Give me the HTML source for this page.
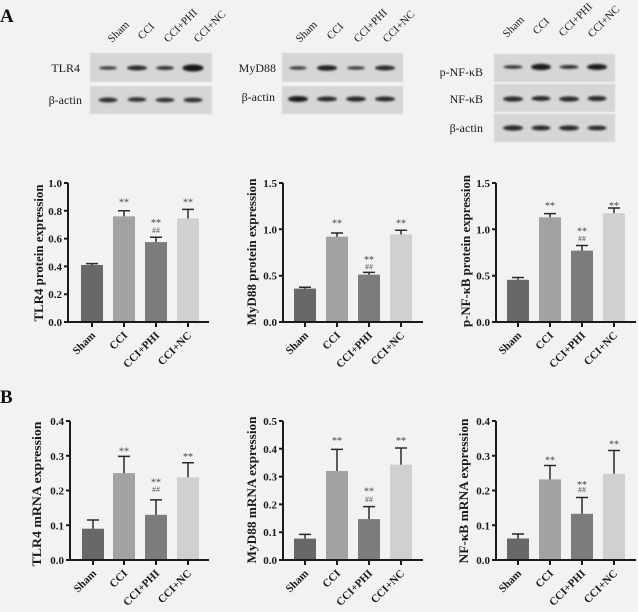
<!DOCTYPE html>
<html><head><meta charset="utf-8"><style>
html,body{margin:0;padding:0;background:#f2f2f2;}
svg{display:block;}
.t{font-family:"Liberation Serif",serif;font-weight:bold;font-size:11px;fill:#1a1a1a;}
.yl{font-family:"Liberation Serif",serif;font-weight:bold;font-size:13px;fill:#1a1a1a;}
.bl{font-family:"Liberation Serif",serif;font-size:12px;fill:#1a1a1a;}
.cl{font-family:"Liberation Serif",serif;font-size:11px;fill:#1a1a1a;}
.ast{font-family:"Liberation Serif",serif;font-size:10px;fill:#444;}
.hs{font-family:"Liberation Serif",serif;font-size:8px;fill:#555;}
.ax{stroke:#1a1a1a;stroke-width:2;fill:none;}
.eb{stroke:#2a2a2a;stroke-width:1.5;fill:none;}
.big{font-family:"Liberation Serif",serif;font-weight:bold;font-size:19px;fill:#111;}
</style></head><body>
<svg width="638" height="612" viewBox="0 0 638 612" xmlns="http://www.w3.org/2000/svg">
<defs><filter id="bl" x="-30%" y="-100%" width="160%" height="300%"><feGaussianBlur stdDeviation="1.1"/></filter></defs>
<rect width="638" height="612" fill="#f2f2f2"/>
<text class="big" x="0" y="22">A</text>
<text class="big" x="0" y="403">B</text>

<!-- Blot panel 1 -->
<g>
<text class="cl" transform="translate(112,43) rotate(-45)">Sham</text>
<text class="cl" transform="translate(142,40) rotate(-45)">CCI</text>
<text class="cl" transform="translate(168,43) rotate(-45)">CCI+PHI</text>
<text class="cl" transform="translate(198,43) rotate(-45)">CCI+NC</text>
<rect x="90" y="53" width="122" height="29" fill="#d6d6d6" stroke="#e4e4e4"/>
<rect x="90" y="86" width="122" height="28" fill="#d6d6d6" stroke="#e4e4e4"/>
<text class="bl" x="80" y="72" text-anchor="end">TLR4</text>
<text class="bl" x="82" y="104" text-anchor="end">β-actin</text>
<g filter="url(#bl)" fill="#2a2a2a">
<ellipse cx="108" cy="68" rx="9" ry="1.8" fill="#3a3a3a"/>
<ellipse cx="137" cy="68" rx="10" ry="2.5"/>
<ellipse cx="165" cy="68" rx="9" ry="2" fill="#333"/>
<ellipse cx="193" cy="68" rx="10.5" ry="3.5" fill="#151515"/>
<ellipse cx="108" cy="100" rx="9.5" ry="2.5" fill="#333"/>
<ellipse cx="137" cy="99.5" rx="9.5" ry="2.3" fill="#333"/>
<ellipse cx="165" cy="100" rx="9.5" ry="2.3" fill="#333"/>
<ellipse cx="193" cy="100" rx="9.5" ry="2.4" fill="#333"/>
</g>
</g>

<!-- Blot panel 2 -->
<g>
<text class="cl" transform="translate(300,43) rotate(-45)">Sham</text>
<text class="cl" transform="translate(331,40) rotate(-45)">CCI</text>
<text class="cl" transform="translate(358,43) rotate(-45)">CCI+PHI</text>
<text class="cl" transform="translate(387,43) rotate(-45)">CCI+NC</text>
<rect x="282" y="53" width="121" height="29" fill="#d6d6d6" stroke="#e4e4e4"/>
<rect x="282" y="86" width="121" height="28" fill="#d6d6d6" stroke="#e4e4e4"/>
<text class="bl" x="276" y="72" text-anchor="end">MyD88</text>
<text class="bl" x="275" y="101" text-anchor="end">β-actin</text>
<g filter="url(#bl)" fill="#2a2a2a">
<ellipse cx="298" cy="68" rx="8.5" ry="1.8" fill="#3a3a3a"/>
<ellipse cx="327" cy="68" rx="10" ry="2.8" fill="#222"/>
<ellipse cx="356" cy="68" rx="9" ry="1.8" fill="#3a3a3a"/>
<ellipse cx="385" cy="68" rx="10" ry="2.5" fill="#2a2a2a"/>
<ellipse cx="298" cy="99" rx="10" ry="3" fill="#1a1a1a"/>
<ellipse cx="327" cy="99" rx="10" ry="2.5" fill="#2a2a2a"/>
<ellipse cx="356" cy="99" rx="10" ry="2.6" fill="#2a2a2a"/>
<ellipse cx="385" cy="99" rx="10" ry="2.5" fill="#2a2a2a"/>
</g>
</g>

<!-- Blot panel 3 -->
<g>
<text class="cl" transform="translate(507,38) rotate(-45)">Sham</text>
<text class="cl" transform="translate(537,35) rotate(-45)">CCI</text>
<text class="cl" transform="translate(563,37) rotate(-45)">CCI+PHI</text>
<text class="cl" transform="translate(592,38) rotate(-45)">CCI+NC</text>
<rect x="494" y="54" width="121" height="28" fill="#d6d6d6" stroke="#e4e4e4"/>
<rect x="494" y="84" width="121" height="28" fill="#d6d6d6" stroke="#e4e4e4"/>
<rect x="494" y="114" width="121" height="28" fill="#d6d6d6" stroke="#e4e4e4"/>
<text class="bl" x="483" y="76" text-anchor="end">p-NF-κB</text>
<text class="bl" x="483" y="103" text-anchor="end">NF-κB</text>
<text class="bl" x="483" y="132" text-anchor="end">β-actin</text>
<g filter="url(#bl)" fill="#2a2a2a">
<ellipse cx="513" cy="67" rx="9.5" ry="1.8" fill="#333"/>
<ellipse cx="541" cy="67" rx="10" ry="3.2" fill="#1a1a1a"/>
<ellipse cx="569" cy="67" rx="9.5" ry="2" fill="#333"/>
<ellipse cx="597" cy="67" rx="10" ry="3" fill="#1e1e1e"/>
<ellipse cx="513" cy="99" rx="10" ry="2.6"/>
<ellipse cx="541" cy="98.5" rx="9.5" ry="2.5"/>
<ellipse cx="569" cy="99" rx="10" ry="2.6"/>
<ellipse cx="597" cy="98.5" rx="9.5" ry="2.6"/>
<ellipse cx="513" cy="128" rx="10" ry="2.7"/>
<ellipse cx="541" cy="128" rx="9.5" ry="2.5"/>
<ellipse cx="569" cy="128" rx="10" ry="2.6"/>
<ellipse cx="597" cy="128" rx="9.5" ry="2.4"/>
</g>
</g>

<!-- Chart 1: TLR4 protein -->
<g>
<text class="yl" transform="translate(43,253) rotate(-90)" text-anchor="middle" textLength="137" lengthAdjust="spacingAndGlyphs">TLR4 protein expression</text>
<g class="t" text-anchor="end">
<text x="62" y="326">0.0</text><text x="62" y="298.2">0.2</text><text x="62" y="270.4">0.4</text><text x="62" y="242.6">0.6</text><text x="62" y="214.8">0.8</text><text x="62" y="187">1.0</text>
</g>
<rect x="81" y="265" width="22" height="57" fill="#686868"/>
<rect x="113" y="216.4" width="22" height="105.6" fill="#a2a2a4"/>
<rect x="145" y="242.1" width="22" height="79.9" fill="#7c7c7c"/>
<rect x="177" y="218.4" width="22" height="103.6" fill="#d0d0d0"/>
<path class="eb" d="M92 265V263.6M86 263.6H98 M124 216.4V210.8M118 210.8H130 M156 242.1V237.2M150 237.2H162 M188 218.4V209.4M182 209.4H194"/>
<path class="ax" d="M68 183V322H209 M64 183H68M64 210.8H68M64 238.6H68M64 266.4H68M64 294.2H68M64 322H68 M92 322V327M124 322V327M156 322V327M188 322V327"/>
<text class="ast" x="124" y="205.4" text-anchor="middle">**</text>
<text class="ast" x="188" y="205.4" text-anchor="middle">**</text>
<text class="ast" x="156" y="225.9" text-anchor="middle">**</text>
<text class="hs" x="156" y="233.2" text-anchor="middle">##</text>
<g class="t" text-anchor="end">
<text transform="translate(96,336) rotate(-45)">Sham</text>
<text transform="translate(128,336) rotate(-45)">CCI</text>
<text transform="translate(160,336) rotate(-45)">CCI+PHI</text>
<text transform="translate(192,336) rotate(-45)">CCI+NC</text>
</g>
</g>

<!-- Chart 2: MyD88 protein -->
<g>
<text class="yl" transform="translate(256,252) rotate(-90)" text-anchor="middle" textLength="147" lengthAdjust="spacingAndGlyphs">MyD88 protein expression</text>
<g class="t" text-anchor="end">
<text x="277" y="326">0.0</text><text x="277" y="279.7">0.5</text><text x="277" y="233.3">1.0</text><text x="277" y="187">1.5</text>
</g>
<rect x="294" y="288.6" width="22" height="33.4" fill="#686868"/>
<rect x="326" y="236.7" width="22" height="85.3" fill="#a2a2a4"/>
<rect x="358" y="274.7" width="22" height="47.3" fill="#7c7c7c"/>
<rect x="390" y="234.4" width="22" height="87.6" fill="#d0d0d0"/>
<path class="eb" d="M305 288.6V287.2M299 287.2H311 M337 236.7V233M331 233H343 M369 274.7V272.4M363 272.4H375 M401 234.4V230.3M395 230.3H407"/>
<path class="ax" d="M283 183V322H423 M279 183H283M279 229.3H283M279 275.7H283M279 322H283 M305 322V327M337 322V327M369 322V327M401 322V327"/>
<text class="ast" x="337" y="226.4" text-anchor="middle">**</text>
<text class="ast" x="401" y="226.4" text-anchor="middle">**</text>
<text class="ast" x="369" y="263" text-anchor="middle">**</text>
<text class="hs" x="369" y="269.4" text-anchor="middle">##</text>
<g class="t" text-anchor="end">
<text transform="translate(309,336) rotate(-45)">Sham</text>
<text transform="translate(341,336) rotate(-45)">CCI</text>
<text transform="translate(373,336) rotate(-45)">CCI+PHI</text>
<text transform="translate(405,336) rotate(-45)">CCI+NC</text>
</g>
</g>

<!-- Chart 3: p-NF-kB protein -->
<g>
<text class="yl" transform="translate(470,251) rotate(-90)" text-anchor="middle" textLength="152" lengthAdjust="spacingAndGlyphs">p-NF-κB protein expression</text>
<g class="t" text-anchor="end">
<text x="490" y="326">0.0</text><text x="490" y="279.7">0.5</text><text x="490" y="233.3">1.0</text><text x="490" y="187">1.5</text>
</g>
<rect x="507" y="279.8" width="22" height="42.2" fill="#686868"/>
<rect x="539" y="217.3" width="22" height="104.7" fill="#a2a2a4"/>
<rect x="571" y="250.6" width="22" height="71.4" fill="#7c7c7c"/>
<rect x="603" y="213.1" width="22" height="108.9" fill="#d0d0d0"/>
<path class="eb" d="M518 279.8V277.5M512 277.5H524 M550 217.3V213.6M544 213.6H556 M582 250.6V245.5M576 245.5H588 M614 213.1V208M608 208H620"/>
<path class="ax" d="M496 183V322H636 M492 183H496M492 229.3H496M492 275.7H496M492 322H496 M518 322V327M550 322V327M582 322V327M614 322V327"/>
<text class="ast" x="550" y="209" text-anchor="middle">**</text>
<text class="ast" x="614" y="209" text-anchor="middle">**</text>
<text class="ast" x="582" y="234.7" text-anchor="middle">**</text>
<text class="hs" x="582" y="241.7" text-anchor="middle">##</text>
<g class="t" text-anchor="end">
<text transform="translate(522,336) rotate(-45)">Sham</text>
<text transform="translate(554,336) rotate(-45)">CCI</text>
<text transform="translate(586,336) rotate(-45)">CCI+PHI</text>
<text transform="translate(618,336) rotate(-45)">CCI+NC</text>
</g>
</g>

<!-- Chart 4: TLR4 mRNA -->
<g>
<text class="yl" transform="translate(41,494) rotate(-90)" text-anchor="middle" textLength="145" lengthAdjust="spacingAndGlyphs">TLR4 mRNA expression</text>
<g class="t" text-anchor="end">
<text x="64" y="564">0.0</text><text x="64" y="529.25">0.1</text><text x="64" y="494.5">0.2</text><text x="64" y="459.75">0.3</text><text x="64" y="425">0.4</text>
</g>
<rect x="82" y="528.7" width="22" height="31.3" fill="#686868"/>
<rect x="113" y="473.1" width="22" height="86.9" fill="#a2a2a4"/>
<rect x="145" y="514.8" width="22" height="45.2" fill="#7c7c7c"/>
<rect x="177" y="477.3" width="22" height="82.7" fill="#d0d0d0"/>
<path class="eb" d="M93 528.7V520M87 520H99 M124 473.1V456.4M118 456.4H130 M156 514.8V499.9M150 499.9H162 M188 477.3V462.7M182 462.7H194"/>
<path class="ax" d="M70 421V560H209 M66 421H70M66 455.75H70M66 490.5H70M66 525.25H70M66 560H70 M93 560V565M124 560V565M156 560V565M188 560V565"/>
<text class="ast" x="124" y="454.7" text-anchor="middle">**</text>
<text class="ast" x="188" y="460" text-anchor="middle">**</text>
<text class="ast" x="156" y="485.4" text-anchor="middle">**</text>
<text class="hs" x="156" y="492" text-anchor="middle">##</text>
<g class="t" text-anchor="end">
<text transform="translate(97,574) rotate(-45)">Sham</text>
<text transform="translate(128,574) rotate(-45)">CCI</text>
<text transform="translate(160,574) rotate(-45)">CCI+PHI</text>
<text transform="translate(192,574) rotate(-45)">CCI+NC</text>
</g>
</g>

<!-- Chart 5: MyD88 mRNA -->
<g>
<text class="yl" transform="translate(256,490) rotate(-90)" text-anchor="middle" textLength="147" lengthAdjust="spacingAndGlyphs">MyD88 mRNA expression</text>
<g class="t" text-anchor="end">
<text x="277" y="564">0.0</text><text x="277" y="536.2">0.1</text><text x="277" y="508.4">0.2</text><text x="277" y="480.6">0.3</text><text x="277" y="452.8">0.4</text><text x="277" y="425">0.5</text>
</g>
<rect x="294" y="538.6" width="22" height="21.4" fill="#686868"/>
<rect x="326" y="471" width="22" height="89" fill="#a2a2a4"/>
<rect x="358" y="519.1" width="22" height="40.9" fill="#7c7c7c"/>
<rect x="390" y="464.6" width="22" height="95.4" fill="#d0d0d0"/>
<path class="eb" d="M305 538.6V534.4M299 534.4H311 M337 471V449.4M331 449.4H343 M369 519.1V506.6M363 506.6H375 M401 464.6V448M395 448H407"/>
<path class="ax" d="M283 421V560H423 M279 421H283M279 448.8H283M279 476.6H283M279 504.4H283M279 532.2H283M279 560H283 M305 560V565M337 560V565M369 560V565M401 560V565"/>
<text class="ast" x="337" y="444" text-anchor="middle">**</text>
<text class="ast" x="401" y="444" text-anchor="middle">**</text>
<text class="ast" x="369" y="494.7" text-anchor="middle">**</text>
<text class="hs" x="369" y="502" text-anchor="middle">##</text>
<g class="t" text-anchor="end">
<text transform="translate(309,574) rotate(-45)">Sham</text>
<text transform="translate(341,574) rotate(-45)">CCI</text>
<text transform="translate(373,574) rotate(-45)">CCI+PHI</text>
<text transform="translate(405,574) rotate(-45)">CCI+NC</text>
</g>
</g>

<!-- Chart 6: NF-kB mRNA -->
<g>
<text class="yl" transform="translate(468,491) rotate(-90)" text-anchor="middle" textLength="145" lengthAdjust="spacingAndGlyphs">NF-κB mRNA expression</text>
<g class="t" text-anchor="end">
<text x="490" y="564">0.0</text><text x="490" y="529.25">0.1</text><text x="490" y="494.5">0.2</text><text x="490" y="459.75">0.3</text><text x="490" y="425">0.4</text>
</g>
<rect x="507" y="538.5" width="22" height="21.5" fill="#686868"/>
<rect x="539" y="479.4" width="22" height="80.6" fill="#a2a2a4"/>
<rect x="571" y="513.8" width="22" height="46.2" fill="#7c7c7c"/>
<rect x="603" y="473.8" width="22" height="86.2" fill="#d0d0d0"/>
<path class="eb" d="M518 538.5V534M512 534H524 M550 479.4V465.5M544 465.5H556 M582 513.8V497.5M576 497.5H588 M614 473.8V450.5M608 450.5H620"/>
<path class="ax" d="M496 421V560H636 M492 421H496M492 455.75H496M492 490.5H496M492 525.25H496M492 560H496 M518 560V565M550 560V565M582 560V565M614 560V565"/>
<text class="ast" x="550" y="463.7" text-anchor="middle">**</text>
<text class="ast" x="614" y="447.4" text-anchor="middle">**</text>
<text class="ast" x="582" y="488" text-anchor="middle">**</text>
<text class="hs" x="582" y="492.7" text-anchor="middle">##</text>
<g class="t" text-anchor="end">
<text transform="translate(522,574) rotate(-45)">Sham</text>
<text transform="translate(554,574) rotate(-45)">CCI</text>
<text transform="translate(586,574) rotate(-45)">CCI+PHI</text>
<text transform="translate(618,574) rotate(-45)">CCI+NC</text>
</g>
</g>
</svg>
</body></html>
